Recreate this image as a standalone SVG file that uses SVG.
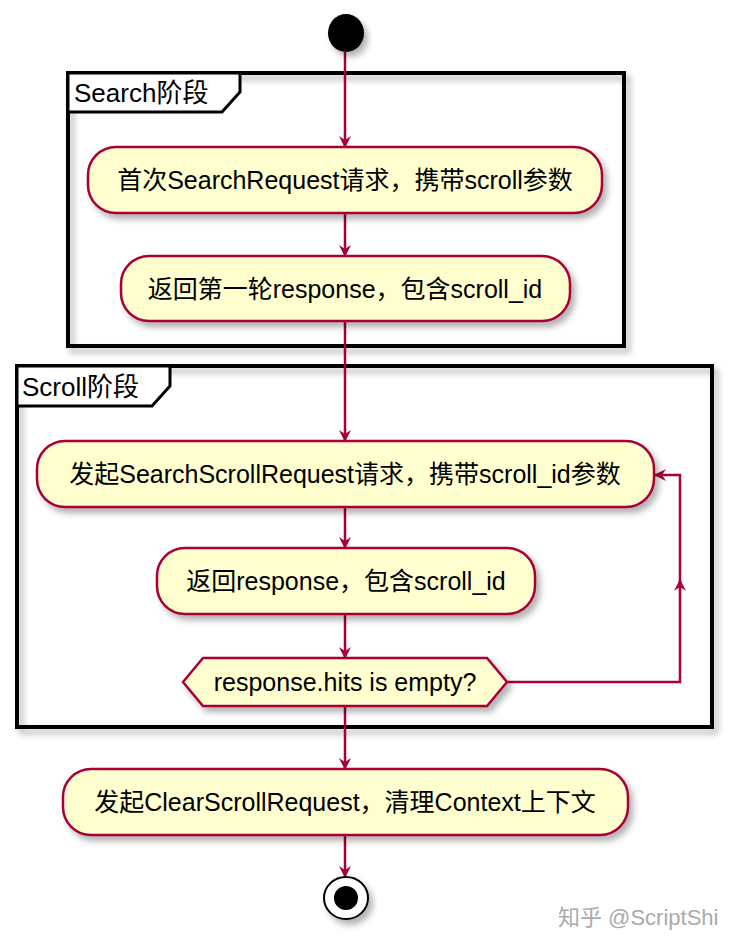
<svg xmlns="http://www.w3.org/2000/svg" width="740" height="952" viewBox="0 0 740 952">
<style>
.n{fill:#FEFECE;stroke:#A80036;stroke-width:2.5;filter:url(#sh)}
.t{font-family:"Liberation Sans","Noto Sans CJK SC",sans-serif;font-size:25px;fill:#000;text-anchor:middle}
.f{fill:none;stroke:#000;stroke-width:4;filter:url(#sh)}
.tab{fill:#fff;stroke:#000;stroke-width:3}
.ft{font-family:"Liberation Sans","Noto Sans CJK SC",sans-serif;font-size:26px;fill:#000}
.c{fill:none;stroke:#A80036;stroke-width:2.5}
</style>
<defs>
<filter id="sh" x="-10%" y="-10%" width="130%" height="140%"><feDropShadow dx="4" dy="5" stdDeviation="3" flood-color="#000" flood-opacity="0.3"/></filter>
<marker id="a" viewBox="0 0 12 12" refX="11" refY="6" markerWidth="12" markerHeight="12" markerUnits="userSpaceOnUse" orient="auto"><path d="M0,0 L12,6 L0,12 L4,6 Z" fill="#A80036"/></marker>
</defs>
<rect width="740" height="952" fill="#fff"/>
<g id="frames">
<rect class="f" x="68" y="73" width="556" height="273"/>
<path class="tab" d="M68,73 H240 V92 L222,112 H68 Z"/>
<text class="ft" x="74" y="102">Search阶段</text>
<rect class="f" x="17" y="366" width="695" height="361"/>
<path class="tab" d="M17,366 H170 V386 L152,406 H17 Z"/>
<text class="ft" x="22" y="396">Scroll阶段</text>
</g>
<g id="connectors">
<path class="c" d="M345,52 V147" marker-end="url(#a)"/>
<path class="c" d="M345,213 V256" marker-end="url(#a)"/>
<path class="c" d="M345,321 V441" marker-end="url(#a)"/>
<path class="c" d="M345,507 V548" marker-end="url(#a)"/>
<path class="c" d="M345,614 V658" marker-end="url(#a)"/>
<path class="c" d="M345,706 V769" marker-end="url(#a)"/>
<path class="c" d="M345,835 V877" marker-end="url(#a)"/>
<path class="c" d="M507,682 H680 V580" marker-end="url(#a)"/>
<path class="c" d="M680,585 V475 H655" marker-end="url(#a)"/>
</g>
<g id="start"><ellipse cx="346" cy="33" rx="18" ry="19" fill="#000" filter="url(#sh)"/></g>
<g id="n1"><rect class="n" x="88" y="147" width="514" height="66" rx="28"/><text class="t" x="345" y="189">首次SearchRequest请求，携带scroll参数</text></g>
<g id="n2"><rect class="n" x="121" y="256" width="449" height="65" rx="28"/><text class="t" x="345" y="298">返回第一轮response，包含scroll_id</text></g>
<g id="n3"><rect class="n" x="37" y="441" width="617" height="66" rx="28"/><text class="t" x="345" y="483">发起SearchScrollRequest请求，携带scroll_id参数</text></g>
<g id="n4"><rect class="n" x="157" y="548" width="378" height="66" rx="28"/><text class="t" x="346" y="590">返回response，包含scroll_id</text></g>
<g id="d1"><path class="n" d="M183,682 L203,658 H487 L507,682 L487,706 H203 Z"/><text class="t" x="345" y="691">response.hits is empty?</text></g>
<g id="n5"><rect class="n" x="63" y="769" width="565" height="66" rx="28"/><text class="t" x="345" y="811">发起ClearScrollRequest，清理Context上下文</text></g>
<g id="end"><ellipse cx="346" cy="898" rx="22" ry="21" fill="#fff" stroke="#000" stroke-width="2" filter="url(#sh)"/><ellipse cx="346" cy="898" rx="12" ry="12" fill="#000"/></g>
<text x="558" y="925" font-family="Liberation Sans,'Noto Sans CJK SC',sans-serif" font-size="22" fill="#aaa">知乎 @ScriptShi</text>
</svg>
